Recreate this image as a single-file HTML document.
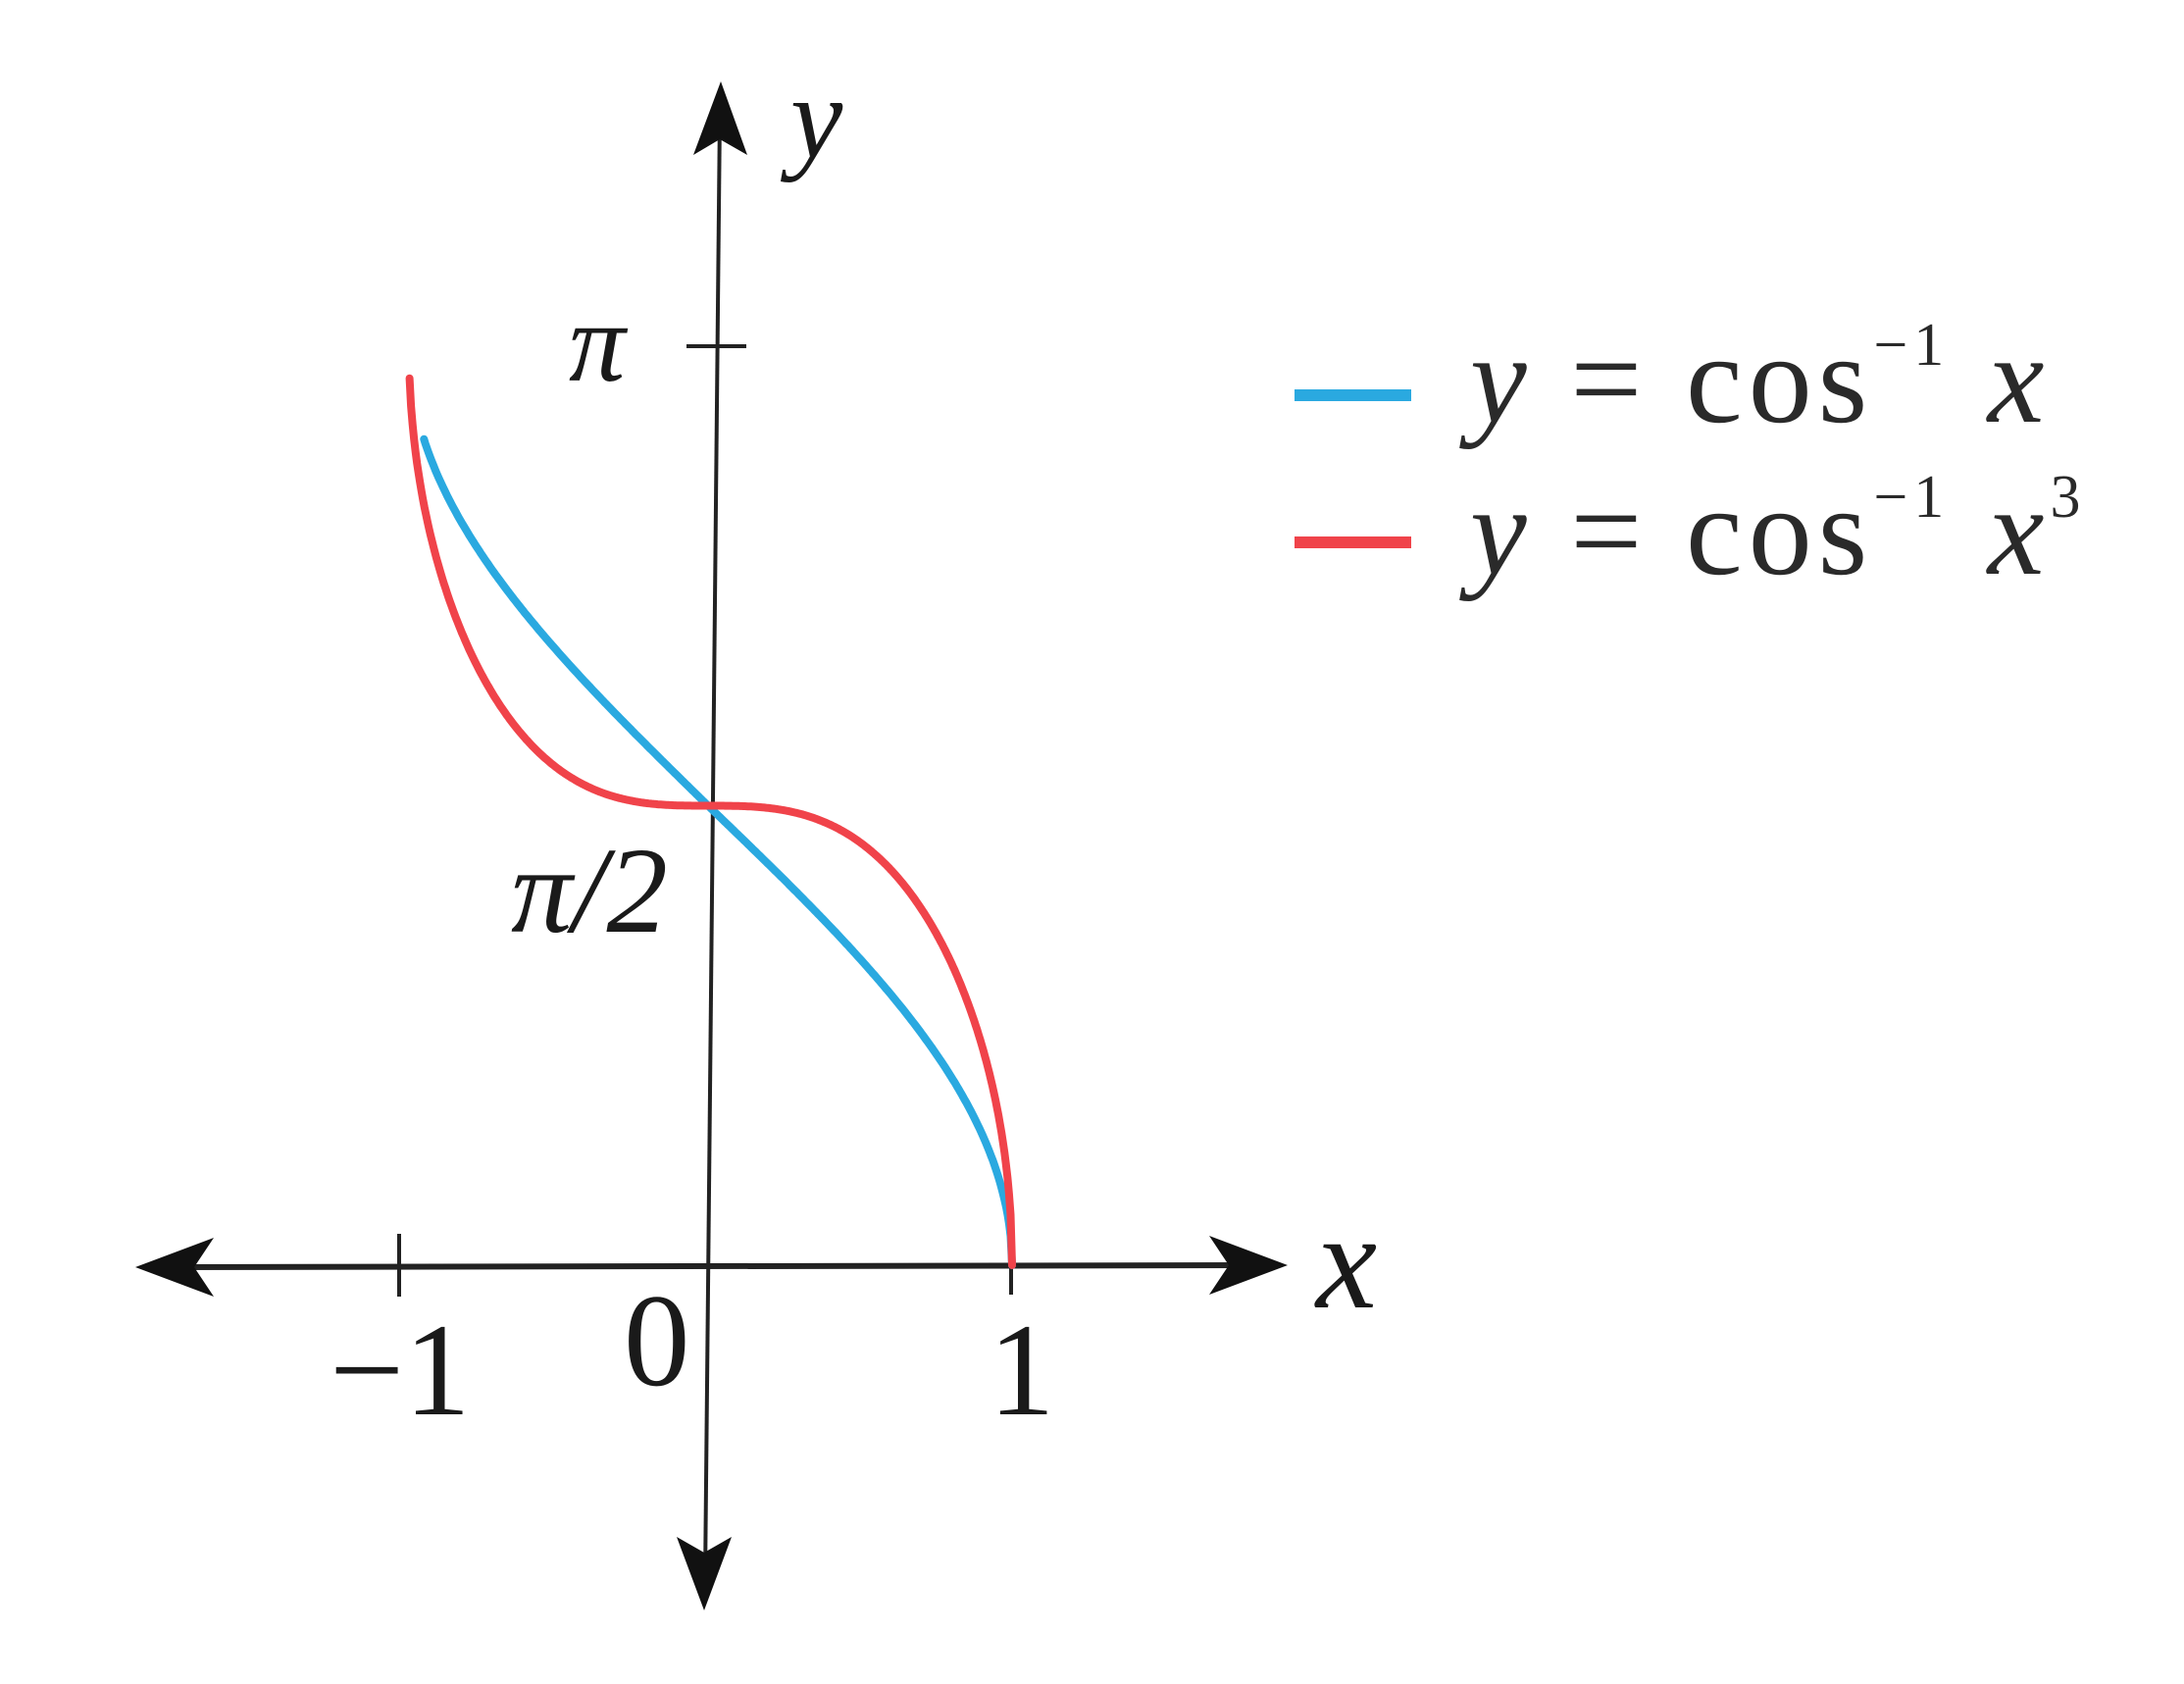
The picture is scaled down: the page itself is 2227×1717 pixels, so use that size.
<!DOCTYPE html>
<html><head><meta charset="utf-8"><style>
html,body{margin:0;padding:0;background:#fff;}
svg{display:block;}
text{font-family:"Liberation Serif",serif;fill:#1a1a1a;}
</style></head><body>
<svg id="s" width="2227" height="1717" viewBox="0 0 2227 1717" xmlns="http://www.w3.org/2000/svg">
<rect width="2227" height="1717" fill="#fff"/>
<!-- axes -->
<line x1="170" y1="1292" x2="1285" y2="1290" stroke="#222" stroke-width="6"/>
<line x1="734" y1="115" x2="719" y2="1612" stroke="#222" stroke-width="4"/>
<path d="M138,1292 L218,1262 L198,1292 L218,1322 Z" fill="#111"/>
<path d="M1313,1290 L1233,1260 L1253,1290 L1233,1320 Z" fill="#111"/>
<path d="M735,83 L707,158 L734,142 L762,158 Z" fill="#111"/>
<path d="M718,1642 L690,1567 L718,1583 L746,1567 Z" fill="#111"/>
<!-- ticks -->
<line x1="700" y1="353" x2="761" y2="353" stroke="#222" stroke-width="4"/>
<line x1="407" y1="1258" x2="407" y2="1322" stroke="#222" stroke-width="4"/>
<line x1="1031" y1="1258" x2="1031" y2="1320" stroke="#222" stroke-width="4"/>
<!-- curves -->
<path id="blue" fill="none" stroke="#2aa9e0" stroke-width="8" stroke-linecap="round"/>
<path id="red" fill="none" stroke="#f0434a" stroke-width="8" stroke-linecap="round"/>
<!-- labels -->
<text x="580" y="388" font-size="115" font-style="italic">π</text>
<text x="521" y="950" font-size="125" font-style="italic">π/2</text>
<text x="636" y="1412" font-size="135">0</text>
<text x="336" y="1442" font-size="135">−1</text>
<text x="1008" y="1442" font-size="135">1</text>
<text x="1342" y="1333" font-size="140" font-style="italic">x</text>
<text x="806" y="160" font-size="120" font-style="italic">y</text>
<!-- legend -->
<line x1="1320" y1="403" x2="1439" y2="403" stroke="#2aa9e0" stroke-width="12"/>
<line x1="1320" y1="553" x2="1439" y2="553" stroke="#f0434a" stroke-width="12"/>
<text x="1499" y="430" font-size="130" letter-spacing="6" style="fill:#2a2a2a"><tspan font-style="italic">y</tspan> = cos<tspan font-size="62" dy="-58">−1</tspan><tspan dy="58"> </tspan><tspan font-style="italic">x</tspan></text>
<text x="1499" y="585" font-size="130" letter-spacing="6" style="fill:#2a2a2a"><tspan font-style="italic">y</tspan> = cos<tspan font-size="62" dy="-58">−1</tspan><tspan dy="58"> </tspan><tspan font-style="italic">x</tspan><tspan font-size="62" dy="-58">3</tspan></text>
</svg>
<script>
function px(x){return 722 + x*(x<0?305:310);}
function py(v){return 1290 - v*937/Math.PI;}
function build(f,a,b){var d="",n=400;for(var i=0;i<=n;i++){var x=a+(b-a)*i/n;var v=f(x);d+=(i?"L":"M")+px(x).toFixed(1)+","+py(v).toFixed(1);}return d;}
document.getElementById("blue").setAttribute("d",build(function(x){return Math.acos(Math.max(-1,Math.min(1,x)));},-0.95,1));
document.getElementById("red").setAttribute("d",build(function(x){return Math.acos(Math.max(-1,Math.min(1,x*x*x)));},-0.998,1));
</script>
</body></html>
